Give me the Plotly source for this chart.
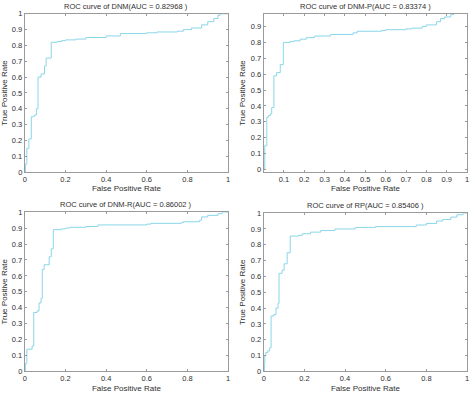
import plotly.graph_objects as go

# ---- data ----
titles = ["ROC curve of DNM(AUC = 0.82968 )", "ROC curve of DNM-P(AUC = 0.83374 )",
          "ROC curve of DNM-R(AUC = 0.86002 )", "ROC curve of RP(AUC = 0.85406 )"]

dnm_fpr = [0, 0.003, 0.01, 0.02, 0.032, 0.047, 0.057, 0.065, 0.08, 0.097, 0.105, 0.13,
           0.16, 0.18, 0.2, 0.25, 0.3, 0.4, 0.47, 0.6, 0.65, 0.75, 0.78, 0.82, 0.87, 0.9,
           0.93, 0.95, 0.96, 1.0]
dnm_tpr = [0, 0.05, 0.15, 0.21, 0.35, 0.36, 0.40, 0.60, 0.62, 0.67, 0.72, 0.82,
           0.825, 0.83, 0.835, 0.84, 0.85, 0.86, 0.875, 0.88, 0.885, 0.89, 0.90, 0.91, 0.93, 0.95,
           0.97, 0.99, 1.0, 1.0]

dnmp_fpr = [0.001, 0.006, 0.016, 0.025, 0.033, 0.04, 0.051, 0.064, 0.082, 0.097, 0.13, 0.15,
            0.18, 0.21, 0.25, 0.33, 0.44, 0.46, 0.58, 0.6, 0.7, 0.73, 0.78, 0.8, 0.85, 0.87,
            0.89, 0.92, 0.935, 1.0]
dnmp_tpr = [0.0, 0.15, 0.33, 0.34, 0.35, 0.39, 0.59, 0.61, 0.66, 0.80, 0.805, 0.81,
            0.82, 0.83, 0.84, 0.85, 0.86, 0.87, 0.875, 0.88, 0.885, 0.89, 0.90, 0.91, 0.93, 0.95,
            0.96, 0.975, 1.0, 1.0]

dnmr_fpr = [0, 0.003, 0.01, 0.036, 0.044, 0.06, 0.07, 0.08, 0.086, 0.095, 0.107, 0.12, 0.13,
            0.14, 0.18, 0.2, 0.22, 0.3, 0.36, 0.6, 0.62, 0.77, 0.78, 0.86, 0.87, 0.9, 0.95,
            0.97, 1.0]
dnmr_tpr = [0, 0.05, 0.14, 0.16, 0.37, 0.38, 0.43, 0.46, 0.64, 0.67, 0.67, 0.72, 0.77,
            0.89, 0.895, 0.90, 0.905, 0.91, 0.92, 0.925, 0.93, 0.935, 0.94, 0.95, 0.97, 0.98, 0.99,
            1.0, 1.0]

rp_fpr = [0, 0.003, 0.005, 0.01, 0.02, 0.029, 0.036, 0.05, 0.06, 0.07, 0.075, 0.09, 0.1,
          0.115, 0.13, 0.17, 0.19, 0.23, 0.28, 0.35, 0.45, 0.55, 0.75, 0.8, 0.85, 0.88, 0.92,
          0.95, 0.98, 1.0]
rp_tpr = [0, 0.05, 0.10, 0.12, 0.13, 0.15, 0.35, 0.36, 0.40, 0.43, 0.62, 0.64, 0.68,
          0.75, 0.855, 0.86, 0.87, 0.88, 0.89, 0.90, 0.91, 0.915, 0.925, 0.935, 0.95, 0.96, 0.975,
          0.99, 1.0, 1.0]

series = [(dnm_fpr, dnm_tpr), (dnmp_fpr, dnmp_tpr), (dnmr_fpr, dnmr_tpr), (rp_fpr, rp_tpr)]

W, H = 474, 397
# pixel boxes (left, right, top, bottom)
boxes = [(23, 228, 10, 172), (264, 469, 10, 172), (23, 228, 213, 376), (264, 469, 214, 376)]
xranges = [[0, 1], [0.001, 1], [0, 1], [0, 1]]
yranges = [[0, 1], [-0.016, 0.98], [0, 1], [0, 1]]
xdt = [0.2, 0.1, 0.2, 0.2]

LINE = "#8ad6e8"
TXT = "#303030"
AX = "#9a9a9a"
FONT = "Liberation Sans, Arial, sans-serif"

fig = go.Figure()
annotations = []
for i, ((fx, ty), (l, r, t, b)) in enumerate(zip(series, boxes)):
    k = "" if i == 0 else str(i + 1)
    fig.add_trace(go.Scatter(x=fx, y=ty, mode="lines", line=dict(color=LINE, width=1, shape="hv"),
                             xaxis="x" + k, yaxis="y" + k, showlegend=False, hoverinfo="skip"))
    common = dict(showline=True, linecolor=AX, linewidth=1, mirror="ticks", ticks="inside",
                  ticklen=2, tickcolor=AX, showgrid=False, zeroline=False,
                  tickfont=dict(size=7.5, color=TXT, family=FONT))
    fig.layout["xaxis" + k] = dict(common, domain=[l / W, r / W], range=xranges[i],
                                   anchor="y" + k, dtick=xdt[i], tick0=0,
                                   title=dict(text="False Positive Rate", standoff=2,
                                              font=dict(size=8, color=TXT, family=FONT)))
    fig.layout["yaxis" + k] = dict(common, domain=[1 - b / H, 1 - t / H], range=yranges[i],
                                   anchor="x" + k, dtick=0.1, tick0=0,
                                   title=dict(text="True Positive Rate", standoff=4,
                                              font=dict(size=8, color=TXT, family=FONT)))
    annotations.append(dict(text=titles[i], x=(l + r) / 2 / W, y=1 - (t - 1) / H,
                            xref="paper", yref="paper", xanchor="center", yanchor="bottom",
                            showarrow=False, font=dict(size=7.5, color=TXT, family=FONT)))

fig.update_layout(width=W, height=H, margin=dict(l=0, r=0, t=0, b=0),
                  paper_bgcolor="white", plot_bgcolor="white", annotations=annotations)
fig.write_html("out.html", config={"displayModeBar": False},
               post_script="document.body.style.margin='0';document.body.style.overflow='hidden';")
